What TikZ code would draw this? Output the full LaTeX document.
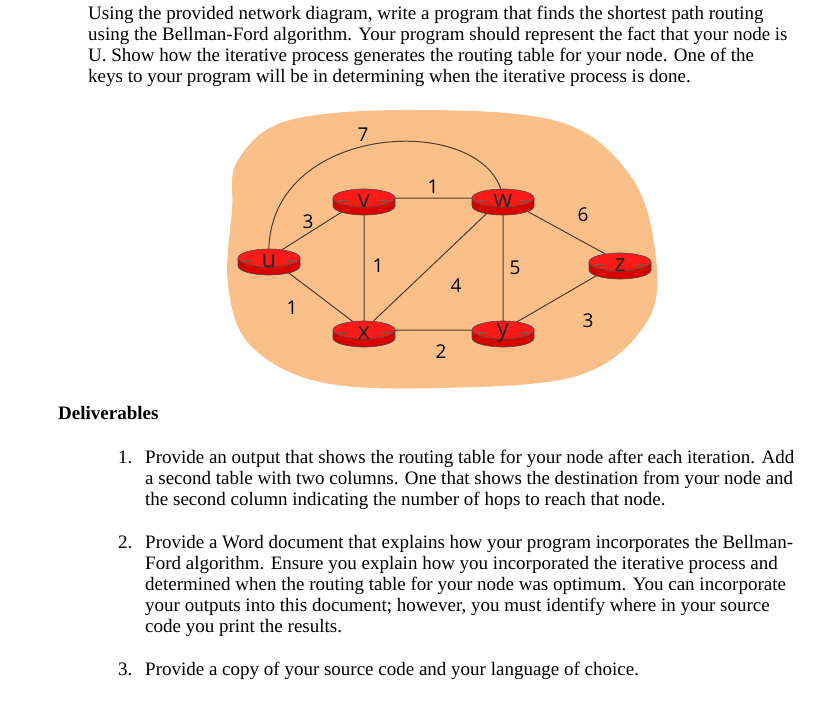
\documentclass[tikz,border=0pt]{standalone}
\usepackage{fontspec}
\setmainfont{Liberation Serif}
\newfontfamily\lblfont{Open Sans}
\begin{document}
\begin{tikzpicture}[x=1pt,y=1pt,
  txt/.style={anchor=base west,inner sep=0pt,font=\fontsize{19}{21}\selectfont},
  wl/.style={font=\lblfont\fontsize{19}{20}\selectfont},
  link/.style={draw={rgb,255:red,80;green,60;blue,40},line width=1pt},
  router/.pic={
    \fill[red!85!black] (-31,0) -- (-31,-8) arc[start angle=180,end angle=360,x radius=31,y radius=9] -- (31,0) -- cycle;
    \draw[black!70,line width=0.6pt] (-31,0) -- (-31,-8) arc[start angle=180,end angle=360,x radius=31,y radius=9] -- (31,0);
    \fill[red!90!white,draw=black!70,line width=0.6pt] (0,0) ellipse[x radius=31,y radius=9];
    \draw[black!60,line width=0.8pt] (-26,-2)--(-16,-2) (16,-2)--(26,-2);
  }]
\useasboundingbox (0,0) rectangle (837,-707);
\fill[white] (0,0) rectangle (837,-707);
\foreach \t [count=\i] in {
 {Using the provided network diagram, write a program that finds the shortest path routing},
 {using the Bellman-Ford algorithm.  Your program should represent the fact that your node is},
 {U.  Show how the iterative process generates the routing table for your node.  One of the},
 {keys to your program will be in determining when the iterative process is done.}}
 \node[txt] (t\i) at (88,{2-21*\i}) {\t};
\fill[color={rgb,255:red,251;green,192;blue,138}]
 plot[smooth cycle,tension=0.6] coordinates {(238,-160) (290,-120) (420,-110) (560,-122) (630,-175) (655,-250) (648,-320) (580,-375) (440,-388) (320,-382) (250,-345) (228,-285) (232,-210)};
\coordinate (u) at (269,-258); \coordinate (v) at (364,-198); \coordinate (w) at (503,-198);
\coordinate (x) at (364,-330); \coordinate (y) at (503,-330); \coordinate (z) at (620,-262);
\draw[link] (u) .. controls (262,-120) and (490,-110) .. (w);
\draw[link] (u)--(v) (u)--(x) (v)--(w) (v)--(x) (x)--(w) (x)--(y) (w)--(y) (w)--(z) (y)--(z);
\foreach \n/\l in {u/u,v/v,w/w,x/x,y/y,z/z}{
  \pic at (\n) {router};
  \node[font=\lblfont\fontsize{24}{24}\selectfont,text=black!85,inner sep=0pt] (l\n) at ([yshift=-3]\n) {\l};
}
\node[wl] (c1) at (363,-135) {7};
\node[wl] (c2) at (433,-187) {1};
\node[wl] (c3) at (308,-222) {3};
\node[wl] (c4) at (378,-266) {1};
\node[wl] (c5) at (456,-286) {4};
\node[wl] (c6) at (515,-268) {5};
\node[wl] (c7) at (583,-215) {6};
\node[wl] (c8) at (292,-308) {1};
\node[wl] (c9) at (441,-352) {2};
\node[wl] (c10) at (588,-321) {3};
\node[txt,font=\bfseries\fontsize{19}{21}\selectfont] (del) at (58,-419) {Deliverables};
\foreach \n/\yy in {1/463,2/548,3/675} \node[txt] (n\n) at (118,-\yy) {\n.};
\foreach \t/\yy [count=\i] in {
 {Provide an output that shows the routing table for your node after each iteration.  Add}/463,
 {a second table with two columns.  One that shows the destination from your node and}/484,
 {the second column indicating the number of hops to reach that node.}/505,
 {Provide a Word document that explains how your program incorporates the Bellman-}/548,
 {Ford algorithm.  Ensure you explain how you incorporated the iterative process and}/569,
 {determined when the routing table for your node was optimum.  You can incorporate}/590,
 {your outputs into this document; however, you must identify where in your source}/611,
 {code you print the results.}/632,
 {Provide a copy of your source code and your language of choice.}/675}
 \node[txt] (d\i) at (145,-\yy) {\t};
\end{tikzpicture}
\end{document}
